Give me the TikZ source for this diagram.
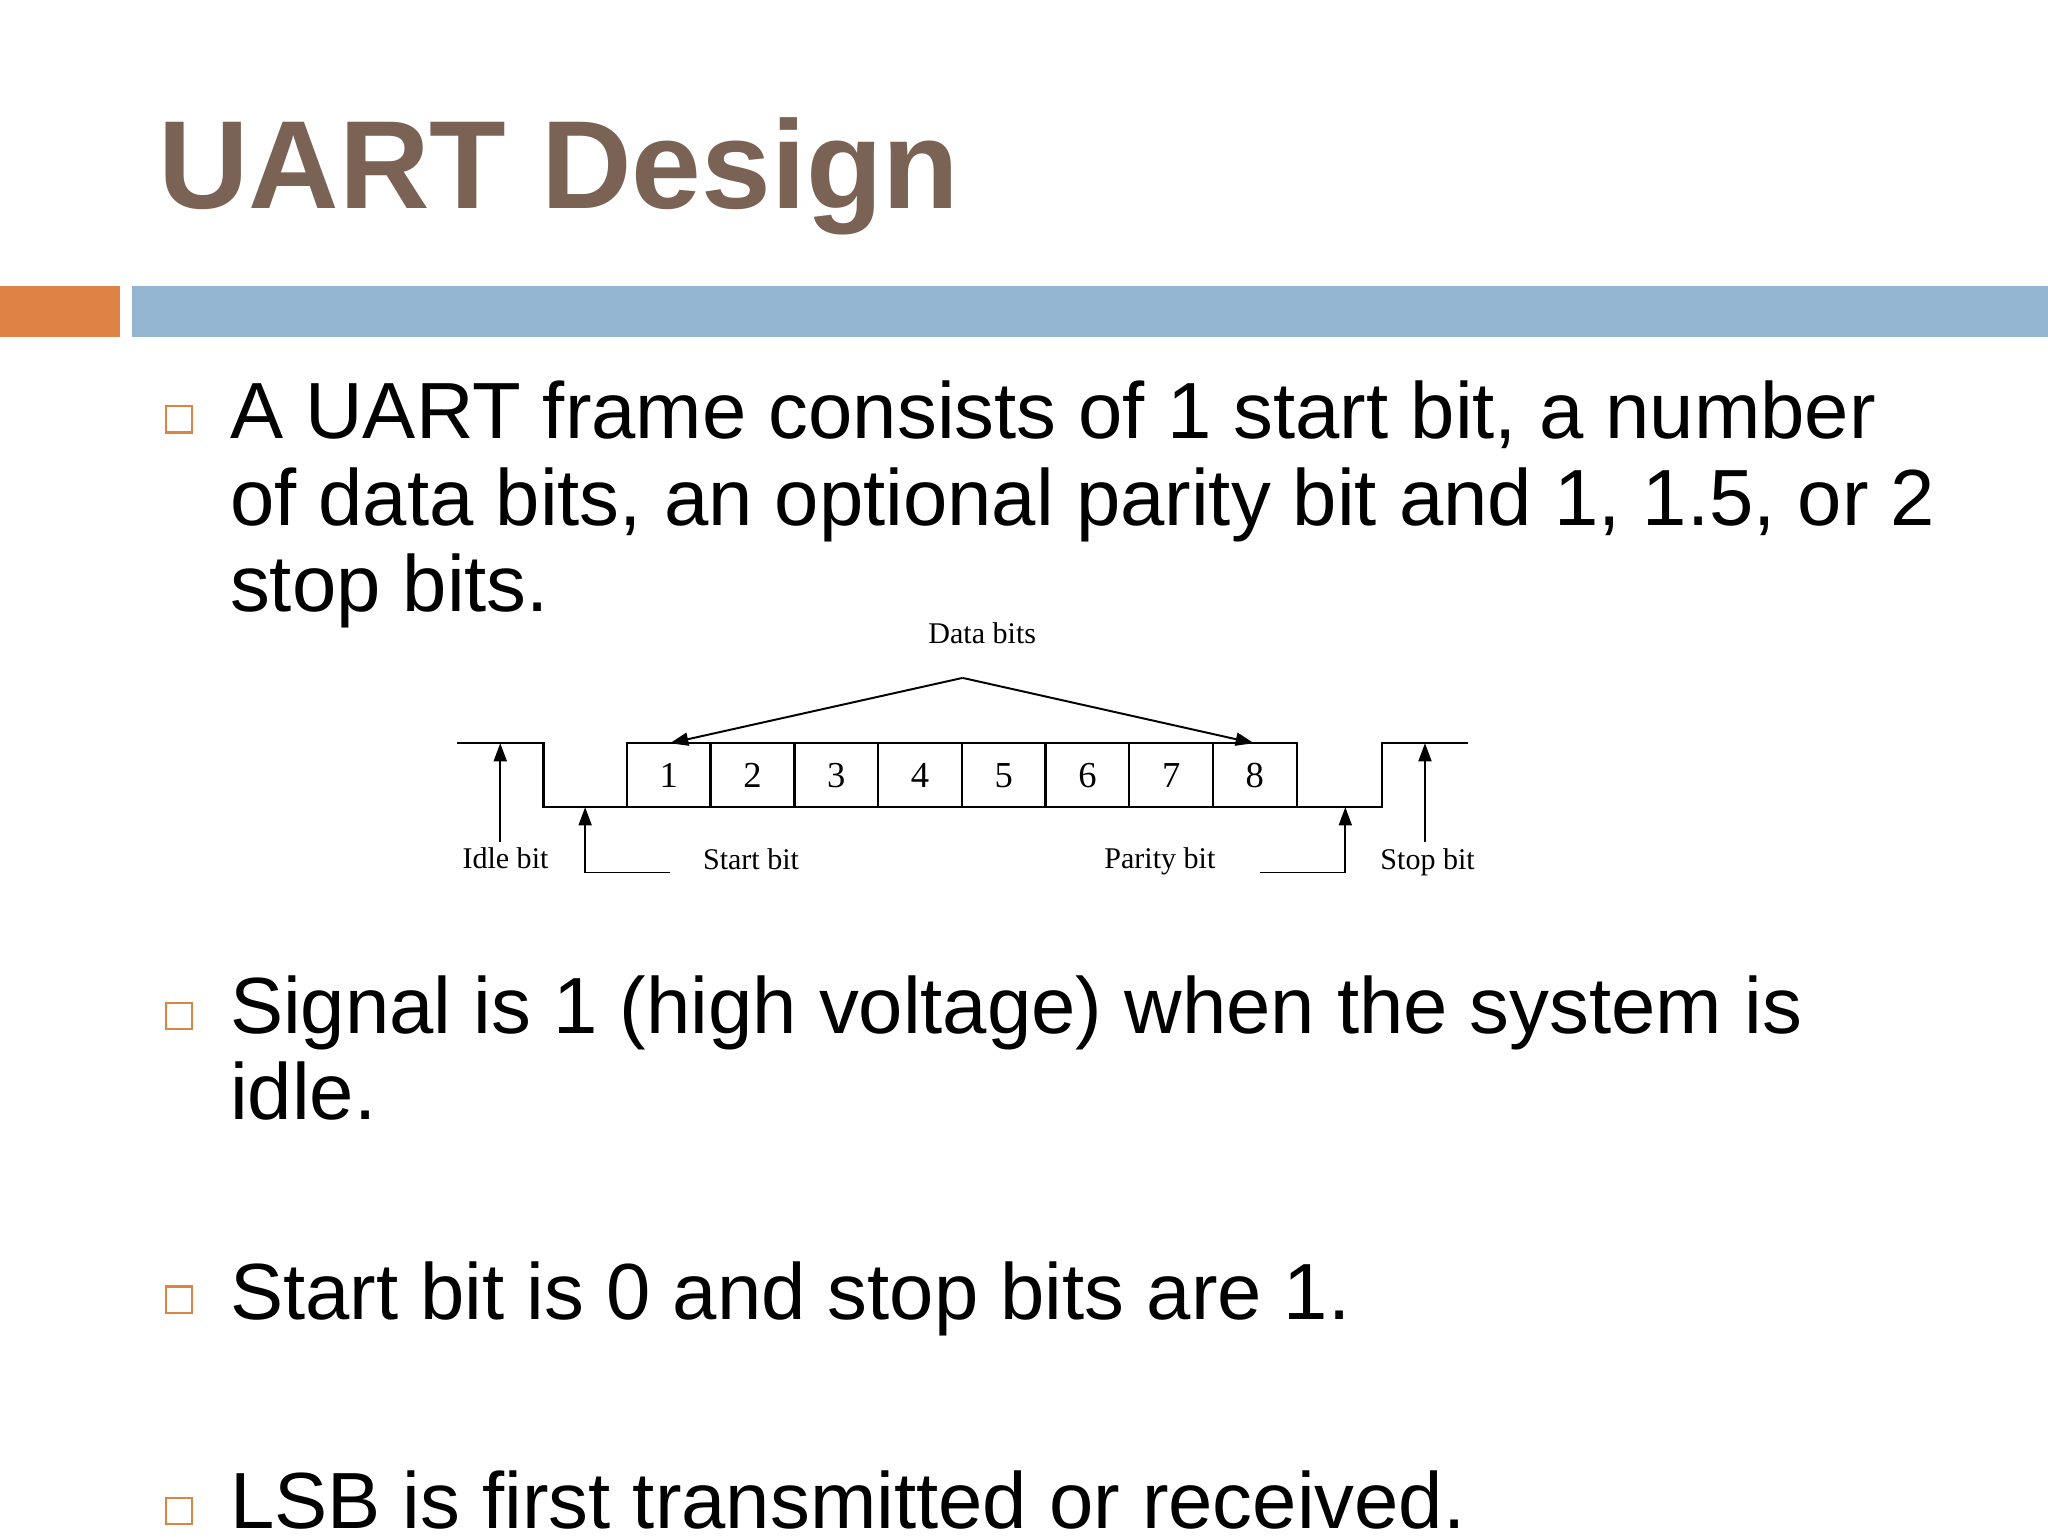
\documentclass[tikz,border=0pt]{standalone}
\usepackage{fontspec}
\setmainfont{Liberation Sans}
\newfontfamily\serifd{Liberation Serif}
\usetikzlibrary{arrows.meta}
\definecolor{titlec}{HTML}{7A6254}
\definecolor{orangec}{HTML}{DF8245}
\definecolor{bluec}{HTML}{94B6D2}
\tikzset{
 wave/.style={line width=1.8pt},
 arr/.style={line width=1.5pt,-{Triangle[length=14pt,width=10pt]}},
 lbl/.style={font=\serifd\fontsize{23}{25}\selectfont,anchor=base},
 num/.style={font=\serifd\fontsize{28}{30}\selectfont},
 btxt/.style={font=\fontsize{61}{66}\selectfont,anchor=base west,align=left,inner sep=0},
 bul/.style={draw=orangec,line width=1.8pt,minimum size=20pt,inner sep=0},
}
\begin{document}
\begin{tikzpicture}[x=1pt,y=-1pt]
\useasboundingbox (0,0) rectangle (1568,1176);
\clip (0,0) rectangle (1568,1176);
\node[font=\bfseries\fontsize{96}{100}\selectfont,text=titlec,anchor=base west,inner sep=0] (title) at (121,160) {UART Design};
\fill[orangec] (0,219) rectangle (92,258);
\fill[bluec] (101,219) rectangle (1568,258);
% bullets
\node[bul] (b1) at (137,321) {};
\node[btxt] (t1) at (176,468) {A UART frame consists of 1 start bit, a number\\of data bits, an optional parity bit and 1, 1.5, or 2\\stop bits.};
\node[bul] (b2) at (137,778) {};
\node[btxt] (t2) at (176,857) {Signal is 1 (high voltage) when the system is\\idle.};
\node[bul] (b3) at (137,995) {};
\node[btxt] (t3) at (176,1010) {Start bit is 0 and stop bits are 1.};
\node[bul] (b4) at (137,1157) {};
\node[btxt] (t4) at (176,1170) {LSB is first transmitted or received.};
% waveform
\draw[wave] (350,569) -- (416,569) -- (416,618) -- (1058,618) -- (1058,569) -- (1124,569);
\foreach \i in {1,...,8}{
 \pgfmathsetmacro{\xa}{480+(\i-1)*64.1}
 \pgfmathsetmacro{\xb}{480+\i*64.1}
 \draw[wave] (\xa,569) rectangle (\xb,618);
 \node[num] (d\i) at ({(\xa+\xb)/2},594) {\i};
}
\coordinate (apex) at (737,519);
\coordinate (l1) at (513,569);
\coordinate (l8) at (960,569);
\draw[arr] (apex) -- (l1);
\draw[arr] (apex) -- (l8);
\node[lbl] (db) at (752,493) {Data bits};
\coordinate (ia) at (383,645); \coordinate (ib) at (383,569);
\draw[arr] (ia) -- (ib);
\coordinate (sa) at (513,668); \coordinate (sc) at (448,668); \coordinate (sb) at (448,618);
\draw[arr] (sa) -- (sc) -- (sb);
\coordinate (pa) at (965,668); \coordinate (pc) at (1030,668); \coordinate (pb) at (1030,618);
\draw[arr] (pa) -- (pc) -- (pb);
\coordinate (ta) at (1091,645); \coordinate (tb) at (1091,569);
\draw[arr] (ta) -- (tb);
\node[lbl] (il) at (387,665) {Idle bit};
\node[lbl] (sl) at (575,666) {Start bit};
\node[lbl] (pl) at (888,665) {Parity bit};
\node[lbl] (tl) at (1093,666) {Stop bit};
\end{tikzpicture}
\end{document}
